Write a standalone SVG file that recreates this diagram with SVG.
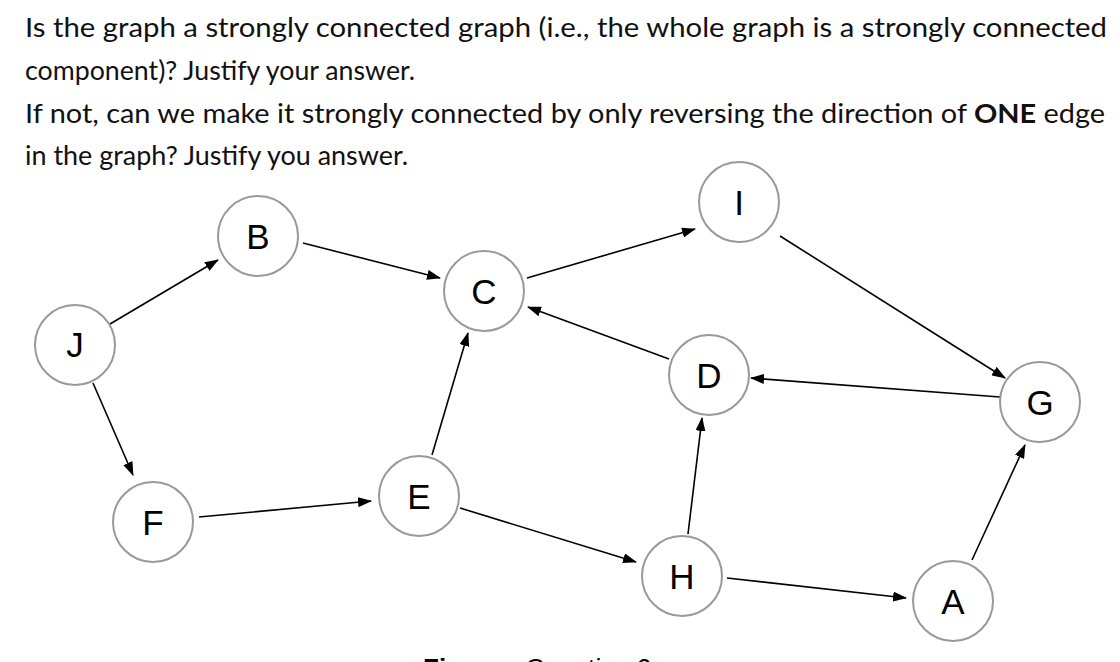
<svg xmlns="http://www.w3.org/2000/svg" width="1120" height="662" viewBox="0 0 1120 662">
<style>
.q{font-family:Lato,"Open Sans",sans-serif;font-size:27.5px;fill:#111}
.n circle{fill:#fff;stroke:#999;stroke-width:2}
.n text{font-family:"Liberation Sans",Arial,sans-serif;font-size:35px;fill:#000;text-anchor:middle}
.e line{stroke:#000;stroke-width:1.6;marker-end:url(#ah)}
</style>
<defs><marker id="ah" markerWidth="14" markerHeight="10" refX="13" refY="5" orient="auto" markerUnits="userSpaceOnUse"><path d="M0,0 L14,5 L0,10 Z" fill="#000"/></marker></defs>
<rect width="1120" height="662" fill="#fff"/>
<text class="q" x="25" y="37" textLength="1082" lengthAdjust="spacingAndGlyphs">Is the graph a strongly connected graph (i.e., the whole graph is a strongly connected</text>
<text class="q" x="25" y="80" textLength="390" lengthAdjust="spacingAndGlyphs">component)? Justify your answer.</text>
<text class="q" x="25" y="123" textLength="1080" lengthAdjust="spacingAndGlyphs">If not, can we make it strongly connected by only reversing the direction of <tspan font-weight="bold">ONE</tspan> edge</text>
<text class="q" x="25" y="165" textLength="383" lengthAdjust="spacingAndGlyphs">in the graph? Justify you answer.</text>
<text x="423" y="677" style="font-family:'Liberation Sans',sans-serif;font-size:26px"><tspan font-weight="bold">Figure</tspan> <tspan font-style="italic">: Question 2</tspan></text>
<g class="e" id="edges">
<line x1="110" y1="324" x2="218" y2="260"/>
<line x1="303" y1="243" x2="440" y2="278"/>
<line x1="527" y1="278" x2="695" y2="229"/>
<line x1="780" y1="236" x2="1005" y2="378"/>
<line x1="1000" y1="397" x2="751" y2="378"/>
<line x1="669" y1="359" x2="528" y2="307"/>
<line x1="432" y1="455" x2="468" y2="333"/>
<line x1="93" y1="383" x2="133" y2="475"/>
<line x1="199" y1="517" x2="371" y2="501"/>
<line x1="460" y1="508" x2="636" y2="562"/>
<line x1="688" y1="534" x2="702" y2="418"/>
<line x1="727" y1="578" x2="906" y2="598"/>
<line x1="972" y1="560" x2="1025" y2="445"/>
</g>
<g class="n" id="J"><circle cx="75" cy="345" r="40"/><text x="75" y="357">J</text></g>
<g class="n" id="B"><circle cx="258" cy="236" r="40"/><text x="258" y="249">B</text></g>
<g class="n" id="C"><circle cx="484" cy="291" r="40"/><text x="484" y="304">C</text></g>
<g class="n" id="I"><circle cx="739" cy="202" r="40"/><text x="739" y="215">I</text></g>
<g class="n" id="D"><circle cx="709" cy="375" r="40"/><text x="709" y="388">D</text></g>
<g class="n" id="G"><circle cx="1040" cy="402" r="40"/><text x="1040" y="415">G</text></g>
<g class="n" id="F"><circle cx="153" cy="522" r="40"/><text x="153" y="535">F</text></g>
<g class="n" id="E"><circle cx="419" cy="496" r="40"/><text x="419" y="509">E</text></g>
<g class="n" id="H"><circle cx="682" cy="576" r="40"/><text x="682" y="589">H</text></g>
<g class="n" id="A"><circle cx="953" cy="601" r="40"/><text x="953" y="614">A</text></g>
</svg>
